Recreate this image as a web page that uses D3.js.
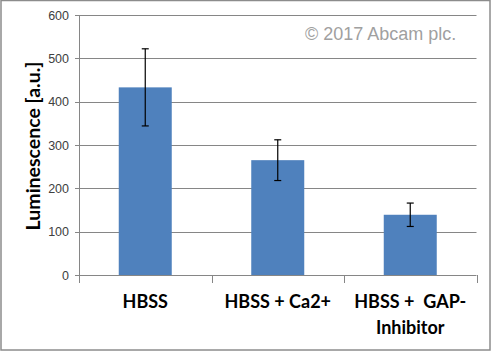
<!DOCTYPE html>
<html>
<head>
<meta charset="utf-8">
<script src="https://cdn.jsdelivr.net/npm/d3@7"></script>
<style>
  body { margin: 0; background: #fff; }
</style>
</head>
<body>
<div class="container"></div>
<script>
// chart data
var categories = ["HBSS", "HBSS + Ca2+", "HBSS +  GAP-Inhibitor"];
var labelLines = [["HBSS"], ["HBSS + Ca2+"], ["HBSS +  GAP-", "Inhibitor"]];
var values = [433, 265, 139];
var errors = [89, 47, 27];
var yTicks = [0, 100, 200, 300, 400, 500, 600];

var W = 491, H = 353;
var margin = {left: 79, right: 14.5, top: 15, bottom: 78};

var svg = d3.select(".container")
  .append("svg")
  .attr("width", W)
  .attr("height", H);

// outer frame
svg.append("rect")
  .attr("x", 1).attr("y", 0.5)
  .attr("width", 489).attr("height", 349.5)
  .style("fill", "none")
  .style("stroke", "#8c8c8c")
  .style("stroke-width", "1.5px");

var x = d3.scaleBand()
  .domain(categories)
  .range([margin.left, W - margin.right])
  .paddingInner(0.6)
  .paddingOuter(0.3);

var y = d3.scaleLinear()
  .domain([0, 600])
  .range([H - margin.bottom, margin.top]);

// gridlines
svg.selectAll("line.grid")
  .data(yTicks)
  .enter().append("line")
  .attr("class", "grid")
  .attr("x1", margin.left - 4)
  .attr("x2", W - margin.right)
  .attr("y1", function(d) { return Math.round(y(d)) + 0.5; })
  .attr("y2", function(d) { return Math.round(y(d)) + 0.5; })
  .style("stroke", "#868686")
  .style("stroke-width", "1px");

// y tick labels
svg.selectAll("text.ytick")
  .data(yTicks)
  .enter().append("text")
  .attr("class", "ytick")
  .attr("x", margin.left - 10)
  .attr("y", function(d) { return y(d) + 4.5; })
  .attr("text-anchor", "end")
  .style("font-family", "'Liberation Sans', Arial, sans-serif")
  .style("font-size", "12.5px")
  .style("fill", "#404040")
  .text(function(d) { return d; });

// y axis line
svg.append("line")
  .attr("x1", margin.left + 0.5).attr("x2", margin.left + 0.5)
  .attr("y1", margin.top).attr("y2", H - margin.bottom + 8)
  .style("stroke", "#868686");

// category ticks at band boundaries
var bounds = categories.map(function(c, i) { return margin.left + (i + 1) * (W - margin.right - margin.left) / categories.length; });
svg.selectAll("line.ctick")
  .data(bounds)
  .enter().append("line")
  .attr("class", "ctick")
  .attr("x1", function(d) { return Math.round(d) + 0.5; })
  .attr("x2", function(d) { return Math.round(d) + 0.5; })
  .attr("y1", H - margin.bottom)
  .attr("y2", H - margin.bottom + 8)
  .style("stroke", "#868686");

// bars
svg.selectAll("rect.bar")
  .data(values)
  .enter().append("rect")
  .attr("class", "bar")
  .attr("x", function(d, i) { return x(categories[i]); })
  .attr("width", x.bandwidth())
  .attr("y", function(d) { return y(d); })
  .attr("height", function(d) { return y(0) - y(d); })
  .style("fill", "#4f81bd");

// error bars
var eb = svg.selectAll("g.err")
  .data(values)
  .enter().append("g")
  .attr("class", "err")
  .style("stroke", "#000")
  .style("stroke-width", "1.2px");

function cx(i) { return x(categories[i]) + x.bandwidth() / 2; }

eb.append("line")
  .attr("x1", function(d, i) { return cx(i); })
  .attr("x2", function(d, i) { return cx(i); })
  .attr("y1", function(d, i) { return y(d + errors[i]); })
  .attr("y2", function(d, i) { return y(d - errors[i]); });
eb.append("line")
  .attr("x1", function(d, i) { return cx(i) - 3.5; })
  .attr("x2", function(d, i) { return cx(i) + 3.5; })
  .attr("y1", function(d, i) { return y(d + errors[i]); })
  .attr("y2", function(d, i) { return y(d + errors[i]); });
eb.append("line")
  .attr("x1", function(d, i) { return cx(i) - 3.5; })
  .attr("x2", function(d, i) { return cx(i) + 3.5; })
  .attr("y1", function(d, i) { return y(d - errors[i]); })
  .attr("y2", function(d, i) { return y(d - errors[i]); });

// category labels
var xl = svg.selectAll("text.xlab")
  .data(labelLines)
  .enter().append("text")
  .attr("class", "xlab")
  .attr("text-anchor", "middle")
  .style("white-space", "pre")
  .style("font-family", "Lato, 'Open Sans', sans-serif")
  .style("font-weight", "bold")
  .style("font-size", "18px")
  .style("fill", "#000");
xl.selectAll("tspan")
  .data(function(d, i) { return d.map(function(t) { return {t: t, i: i}; }); })
  .enter().append("tspan")
  .attr("x", function(d) { return cx(d.i); })
  .attr("y", function(d, j) { return 308 + j * 26; })
  .text(function(d) { return d.t; });

// y axis title
svg.append("text")
  .attr("transform", "translate(40," + 146 + ") rotate(-90)")
  .attr("text-anchor", "middle")
  .style("font-family", "Lato, 'Open Sans', sans-serif")
  .style("font-weight", "bold")
  .style("font-size", "19.5px")
  .style("fill", "#000")
  .text("Luminescence [a.u.]");

// watermark
svg.append("text")
  .attr("x", 305)
  .attr("y", 40)
  .style("font-family", "'Liberation Sans', Arial, sans-serif")
  .style("font-size", "18px")
  .style("fill", "#a0a0a0")
  .text("\u00a9 2017 Abcam plc.");
</script>
</body>
</html>
